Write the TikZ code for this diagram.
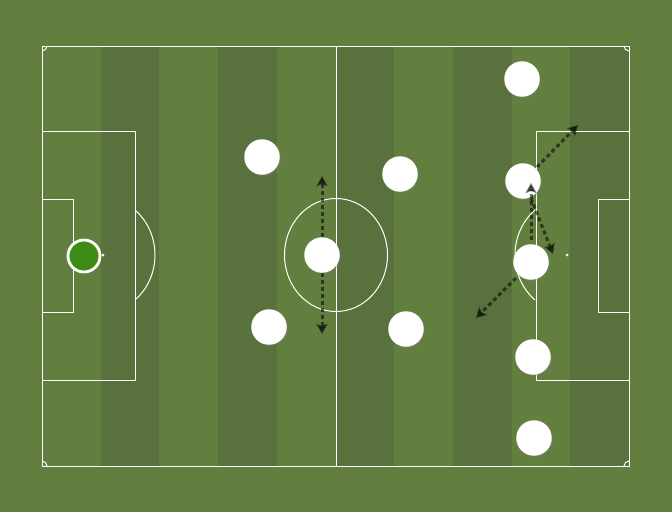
\documentclass[tikz,border=0pt]{standalone}
\usetikzlibrary{arrows.meta,shadows}
\definecolor{grass}{RGB}{99,127,64}
\definecolor{stripe}{RGB}{89,114,61}
\definecolor{keeper}{RGB}{61,140,19}
\tikzset{
  pline/.style={draw=white,line width=1pt},
  player/.style={circle,fill=white,minimum size=35.5pt,inner sep=0pt,
    drop shadow={shadow xshift=1.2pt,shadow yshift=-1.5pt,opacity=0.3}},
  gk/.style={circle,fill=keeper,draw=white,line width=2.8pt,minimum size=32pt,inner sep=0pt,
    drop shadow={shadow xshift=1.2pt,shadow yshift=-1.5pt,opacity=0.3}},
  run/.style={draw=black,opacity=0.55,line width=3pt,dash pattern=on 4pt off 3pt,
    -{Stealth[length=10pt,width=11pt,inset=2pt]}},
}
\begin{document}
\begin{tikzpicture}[x=1pt,y=-1pt]
\fill[grass] (0,0) rectangle (672,512);
\useasboundingbox (0,0) rectangle (672,512);
% stripes
\foreach \i in {1,3,5,7,9}{
  \fill[stripe] ({42+\i*58.7},46) rectangle ({42+(\i+1)*58.7},466);
}
% pitch lines
\draw[pline] (42,46) rectangle (629,466);
\draw[pline] (336,46) -- (336,466);
\draw[pline] (336,255) ellipse [x radius=51.5, y radius=56.5];
% left
\draw[pline] (42,131) rectangle (135,380);
\draw[pline] (42,199) rectangle (73,312);
\fill[white] (103,255) circle (1.5);
\draw[pline] (103,255) ++(-52:52 and 57) arc [start angle=-52, end angle=52, x radius=52, y radius=57];
% right
\draw[pline] (629,131) rectangle (536,380);
\draw[pline] (629,199) rectangle (598,312);
\fill[white] (567,255) circle (1.5);
\draw[pline] (567,255) ++(128:52 and 57) arc [start angle=128, end angle=232, x radius=52, y radius=57];
% corner arcs
\begin{scope}
\clip (42,46) rectangle (629,466);
\draw[pline] (42,46) circle (5);
\draw[pline] (629,46) circle (5);
\draw[pline] (42,466) circle (5);
\draw[pline] (629,466) circle (5);
\end{scope}
% players
\node[gk] (g) at (84,256) {};
\node[player] (p1) at (522,79) {};
\node[player] (p2) at (262,157) {};
\node[player] (p3) at (400,174) {};
\node[player] (p4) at (523,181) {};
\node[player] (p5) at (322,255) {};
\node[player] (p6) at (531,262) {};
\node[player] (p7) at (269,327) {};
\node[player] (p8) at (406,329) {};
\node[player] (p9) at (533,357) {};
\node[player] (p10) at (534,438) {};
% run targets
\coordinate (t1) at (322,176);
\coordinate (t2) at (322,334);
\coordinate (t3) at (578,125);
\coordinate (t4) at (531,183);
\coordinate (t5) at (553,254);
\coordinate (t6) at (476,318);
\coordinate (s3) at (537,167);
\coordinate (s4) at (531,240);
\coordinate (s5) at (531,198);
\coordinate (s6) at (516,278);
\draw[run] (p5.north) -- (t1);
\draw[run] (p5.south) -- (t2);
\draw[run] (s3) -- (t3);
\draw[run] (s4) -- (t4);
\draw[run] (s5) -- (t5);
\draw[run] (s6) -- (t6);
\end{tikzpicture}
\end{document}
